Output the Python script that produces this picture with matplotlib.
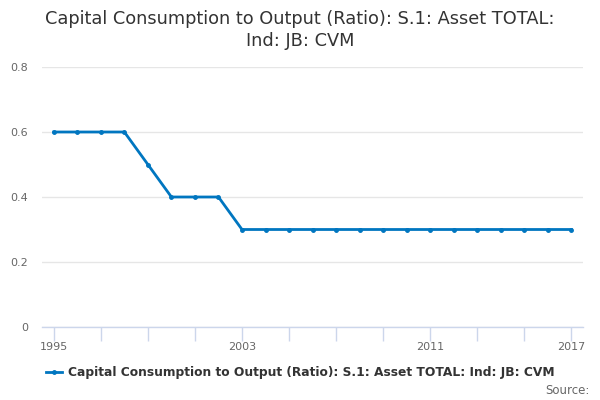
import matplotlib.pyplot as plt
from matplotlib.lines import Line2D

years = list(range(1995, 2018))
ratio = [0.6, 0.6, 0.6, 0.6, 0.5, 0.4, 0.4, 0.4,
         0.3, 0.3, 0.3, 0.3, 0.3, 0.3, 0.3, 0.3, 0.3, 0.3, 0.3, 0.3, 0.3, 0.3, 0.3]
y_ticks = [0, 0.2, 0.4, 0.6, 0.8]
y_labels = ["0", "0.2", "0.4", "0.6", "0.8"]
x_label_years = [1995, 2003, 2011, 2017]
series_name = "Capital Consumption to Output (Ratio): S.1: Asset TOTAL: Ind: JB: CVM"

blue = "#0076c0"

fig = plt.figure(figsize=(6, 4), dpi=100)
ax = fig.add_axes([0.07, 0.1825, 0.902, 0.65])

ax.plot(years, ratio, color=blue, linewidth=2, marker="o", markersize=2.5, zorder=3)

ax.set_xlim(1994.5, 2017.5)
ax.set_ylim(0, 0.8)

# gridlines
ax.set_yticks(y_ticks)
ax.set_yticklabels(y_labels)
ax.yaxis.grid(True, color="#e6e6e6", linewidth=1)
ax.set_axisbelow(True)
ax.tick_params(axis="y", length=0, labelsize=8, labelcolor="#666666", pad=10)

# x axis: tick every 2 years, labels on a few
ax.set_xticks(list(range(1995, 2018, 2)))
ax.set_xticklabels([str(y) if y in x_label_years else "" for y in range(1995, 2018, 2)])
ax.tick_params(axis="x", length=10, width=1, color="#ccd6eb", labelsize=8,
               labelcolor="#666666", pad=1)
for s in ["top", "right", "left"]:
    ax.spines[s].set_visible(False)
ax.spines["bottom"].set_color("#ccd6eb")
ax.spines["bottom"].set_linewidth(1)

fig.text(0.5, 0.975, "Capital Consumption to Output (Ratio): S.1: Asset TOTAL:\nInd: JB: CVM",
         ha="center", va="top", fontsize=12.8, color="#333333", linespacing=1.3)

handle = Line2D([], [], color=blue, linewidth=2, marker="o", markersize=2.5)
fig.legend([handle], [series_name], loc="center left", bbox_to_anchor=(0.058, 0.068),
           frameon=False, handlelength=1.3, handletextpad=0.5,
           prop={"weight": "bold", "size": 8.8}, labelcolor="#333333")
fig.text(0.982, 0.025, "Source:", ha="right", va="center", fontsize=8.5, color="#666666")

fig.savefig("out.png", dpi=100)
